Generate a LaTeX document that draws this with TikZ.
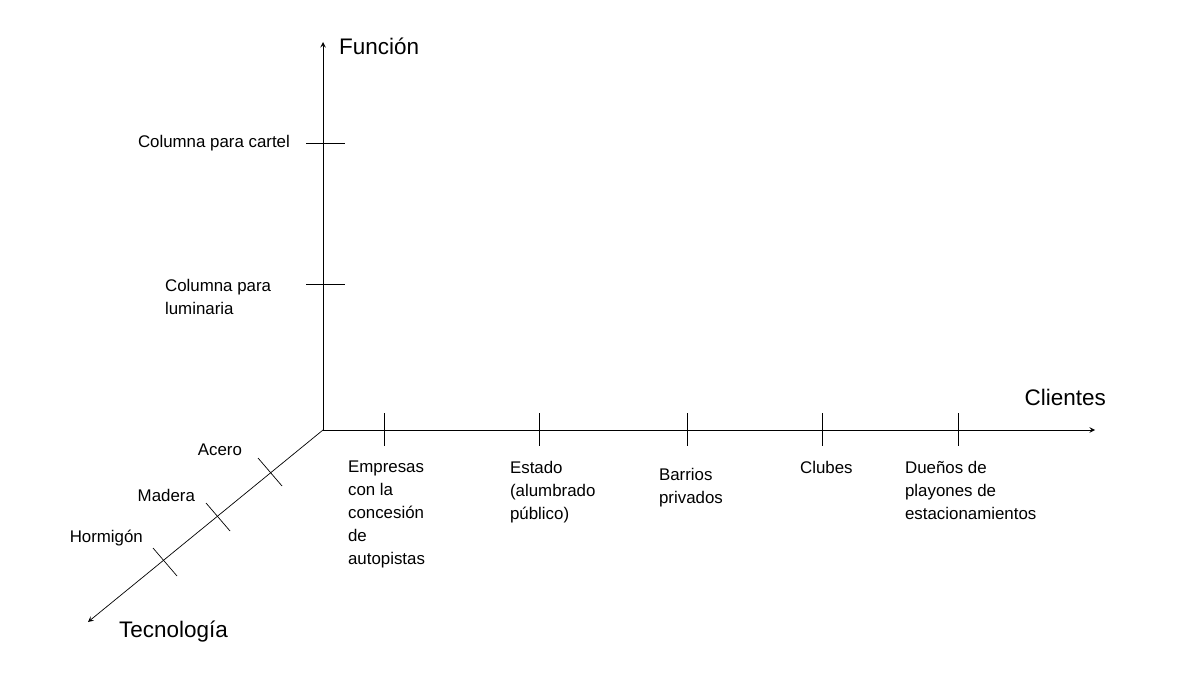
\documentclass[tikz,border=0pt]{standalone}
\usepackage{fontspec}
\setmainfont{Liberation Sans}
\begin{document}
\begin{tikzpicture}[x=0.02cm,y=-0.02cm,
	small/.style={font=\fontsize{9.6}{13}\selectfont, align=left, inner sep=1pt},
	big/.style={font=\fontsize{12.8}{15}\selectfont},
	axis/.style={->, >=stealth}]
	\useasboundingbox (0,0) rectangle (1200,675);
	\coordinate (o) at (323,430);
	\coordinate (f) at (323,42);
	\coordinate (c) at (1095,430);
	\coordinate (t) at (88,622);
	\draw[axis] (o) -- (f);
	\draw[axis] (o) -- (c);
	\draw[axis] (o) -- (t);
	% ticks
	\draw (306,143) -- (345,143);
	\draw (306,284) -- (345,284);
	\foreach \x in {384,539,687,822,958}
		\draw (\x,413) -- (\x,446);
	\foreach \x/\y in {270/472,218/517,165/562}
		\draw (\x-12,\y-14) -- (\x+12,\y+14);
	% labels
	\node[big, anchor=west] (lf) at (333,46) {Función};
	\node[big, anchor=east] (lc) at (1112,397) {Clientes};
	\node[big, anchor=west] (lt) at (113,632) {Tecnología};
	\node[small, anchor=east] (l1) at (292,143) {Columna para cartel};
	\node[small, anchor=north west] (l2) at (163,277) {Columna para\\luminaria};
	\node[small, anchor=east] (a1) at (244,450) {Acero};
	\node[small, anchor=east] (a2) at (197,495) {Madera};
	\node[small, anchor=east] (a3) at (145,538) {Hormigón};
	\node[small, anchor=north west] (c1) at (346,459) {Empresas\\con la\\concesión\\de\\autopistas};
	\node[small, anchor=north west] (c2) at (508,459) {Estado\\(alumbrado\\público)};
	\node[small, anchor=north west] (c3) at (657,466) {Barrios\\privados};
	\node[small, anchor=north west] (c4) at (798,459) {Clubes};
	\node[small, anchor=north west] (c5) at (903,459) {Dueños de\\playones de\\estacionamientos};
\end{tikzpicture}
\end{document}
